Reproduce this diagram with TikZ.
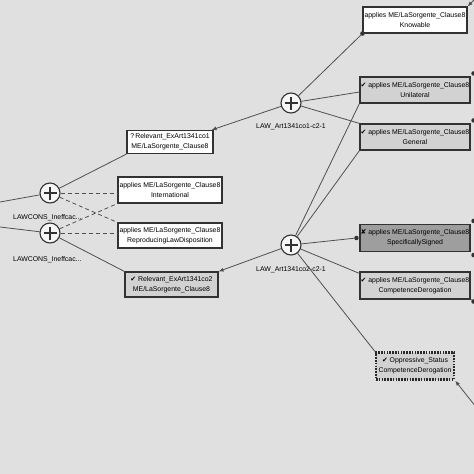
\documentclass[tikz,border=0pt]{standalone}
\usepackage{fontspec}
\setmainfont{Liberation Sans}
\newfontfamily\symf{DejaVu Sans}
\usetikzlibrary{arrows.meta,shadows}
\definecolor{bg}{RGB}{224,224,224}
\definecolor{boxg}{RGB}{210,210,210}
\definecolor{boxd}{RGB}{158,158,158}
\definecolor{edgec}{RGB}{50,50,50}
\definecolor{wirec}{RGB}{80,80,80}
\tikzset{
 box/.style={draw=edgec, line width=1.1pt, rectangle, inner sep=0pt, align=center,
   font=\fontsize{6.9}{10}\selectfont, text=black,
   drop shadow={shadow xshift=0.9pt, shadow yshift=-0.9pt, fill=black!55, opacity=1}},
 wbox/.style={box, fill=white},
 gbox/.style={box, fill=boxg},
 dbox/.style={box, fill=boxd},
 obox/.style={draw=edgec!80!black, rectangle, inner sep=0pt, align=center,
   font=\fontsize{6.9}{10}\selectfont, text=black, fill=boxg,
   line width=2.4pt, dash pattern=on 1.6pt off 1.2pt},
 plusnode/.style={circle, draw=edgec, line width=1.1pt, fill=white!70!bg, minimum size=20pt, inner sep=0pt,
   path picture={\draw[edgec, line width=1.8pt]
     ([xshift=-6.5pt]path picture bounding box.center) -- ([xshift=6.5pt]path picture bounding box.center)
     ([yshift=-6.5pt]path picture bounding box.center) -- ([yshift=6.5pt]path picture bounding box.center);}},
 lab/.style={font=\fontsize{6.9}{8}\selectfont, inner sep=0pt},
 wire/.style={draw=wirec, line width=0.8pt},
 dwire/.style={wire, dash pattern=on 4pt off 3pt},
 tip/.style={-{Latex[length=5pt,width=4pt]}},
 dot/.style={circle, fill=edgec, inner sep=0pt, minimum size=4.5pt},
}
\begin{document}
\begin{tikzpicture}[x=1pt, y=-1pt]
\fill[bg] (0,0) rectangle (474,474);
\useasboundingbox (0,0) rectangle (474,474);

% boxes
\node[wbox, minimum width=104pt, minimum height=26pt] (know) at (415,20) {applies ME/LaSorgente\_Clause8\\Knowable};
\node[gbox, minimum width=110pt, minimum height=26pt] (unil) at (415,90) {{\symf ✔} applies ME/LaSorgente\_Clause8\\Unilateral};
\node[gbox, minimum width=110pt, minimum height=26pt] (gen) at (415,137) {{\symf ✔} applies ME/LaSorgente\_Clause8\\General};
\node[dbox, minimum width=110pt, minimum height=27pt] (spec) at (415,238) {{\symf ✘} applies ME/LaSorgente\_Clause8\\SpecificallySigned};
\node[gbox, minimum width=110pt, minimum height=27pt] (comp) at (415,285.5) {{\symf ✔} applies ME/LaSorgente\_Clause8\\CompetenceDerogation};
\node[obox, minimum width=78pt, minimum height=27pt] (opp) at (415,366) {{\symf ✔} Oppressive\_Status\\CompetenceDerogation};
\node[wbox, minimum width=86pt, minimum height=23pt] (co1) at (170,142) {?\,Relevant\_ExArt1341co1\\ME/LaSorgente\_Clause8};
\node[wbox, minimum width=104pt, minimum height=26pt] (intl) at (170,190) {applies ME/LaSorgente\_Clause8\\International};
\node[wbox, minimum width=104pt, minimum height=25pt] (repr) at (170,235.5) {applies ME/LaSorgente\_Clause8\\ReproducingLawDisposition};
\node[gbox, minimum width=93pt, minimum height=25pt] (co2) at (171.5,284.5) {{\symf ✔} Relevant\_ExArt1341co2\\ME/LaSorgente\_Clause8};

% connectors (plus nodes)
\node[plusnode] (p1) at (291,103) {};
\node[plusnode] (p2) at (291,245) {};
\node[plusnode] (c1) at (50,193) {};
\node[plusnode] (c2) at (50,233) {};

\node[lab] (l1) at (291,127) {LAW\_Art1341co1-c2-1};
\node[lab] (l2) at (291,270) {LAW\_Art1341co2-c2-1};
\node[lab, anchor=west] (l3) at (13,218) {LAWCONS\_Ineffcac...};
\node[lab, anchor=west] (l4) at (13,260) {LAWCONS\_Ineffcac...};

% free ends
\coordinate (in1) at (0,202);
\coordinate (in2) at (0,227);
\coordinate (rk) at (477,-3);
\coordinate (ro) at (476,407);
\coordinate (rc) at (476,301);

% p1 links
\node[dot] (dk) at (know.south west) {};
\draw[wire] (p1) -- (dk);
\draw[wire] (p1) -- ([yshift=-2pt]unil.west);
\draw[wire] (p1) -- (gen.north west);
\draw[wire, tip] (p1) -- ([xshift=-2pt]co1.north east);

% p2 links
\node[dot] (ds) at ([xshift=-3pt]spec.west) {};
\draw[wire] (p2) -- (unil.south west);
\draw[wire] (p2) -- (gen.south west);
\draw[wire] (p2) -- (ds);
\draw[wire] (p2) -- ([yshift=-2pt]comp.north west);
\draw[wire] (p2) -- (opp.north west);
\draw[wire, tip] (p2) -- (co2.north east);

% left connectors
\draw[wire] (in1) -- (c1);
\draw[wire] (in2) -- (c2);
\draw[wire] (c1) -- (co1.south west);
\draw[wire] (c2) -- (co2.north west);
\draw[dwire] (c1) -- (c1 -| intl.west);
\draw[dwire] (c1) -- (repr.north west);
\draw[dwire] (c2) -- (intl.south west);
\draw[dwire] (c2) -- (c2 -| repr.west);

% right-edge stubs
\draw[wire, tip] (rk) -- (know.north east);
\draw[wire, tip] (ro) -- (opp.south east);
\draw[wire] (comp.south east) -- (rc);
\node[dot] (du) at ([xshift=3pt,yshift=3pt]unil.north east) {};
\node[dot] (dg) at ([xshift=3pt,yshift=3pt]gen.north east) {};
\node[dot] (dsa) at ([xshift=3pt,yshift=3pt]spec.north east) {};
\node[dot] (dsb) at ([xshift=3pt,yshift=-3pt]spec.south east) {};
\node[dot] (dc) at ([xshift=3pt,yshift=-2pt]comp.south east) {};
\end{tikzpicture}
\end{document}
